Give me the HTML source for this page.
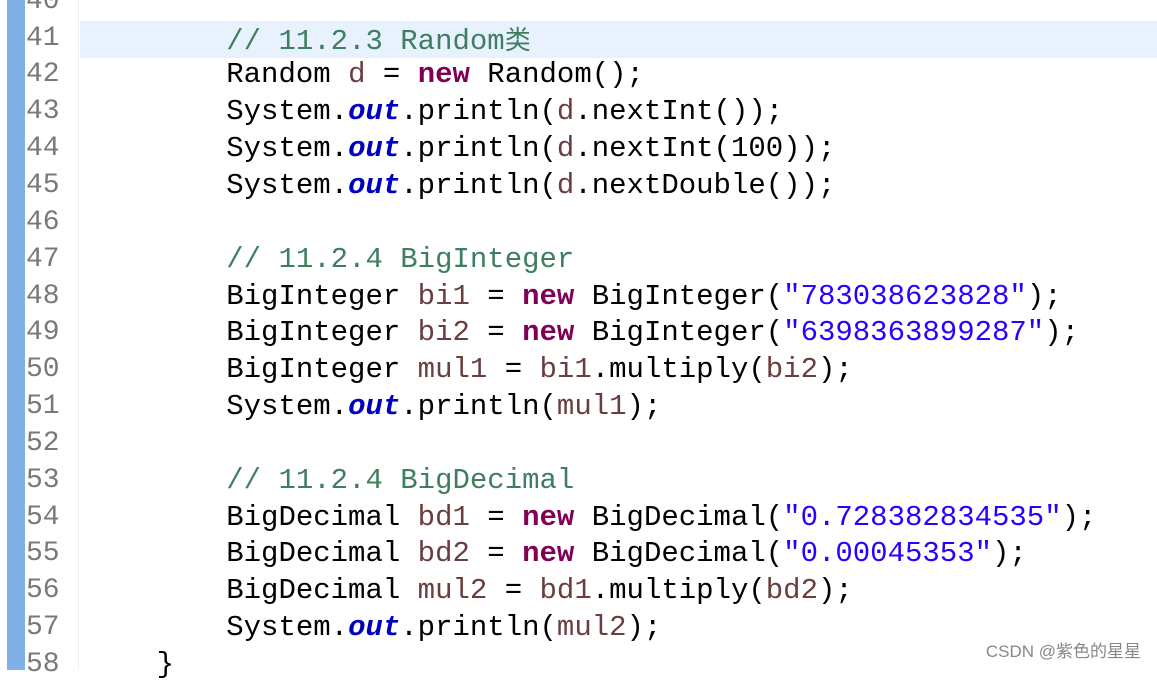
<!DOCTYPE html>
<html><head><meta charset="utf-8"><style>
body{margin:0;width:1157px;height:670px;overflow:hidden;background:#fff;position:relative;font-family:"Liberation Mono",monospace;}
.bar{position:absolute;left:7px;top:0;width:18px;height:670px;background:#7fb0e6;}
.hl{position:absolute;left:80px;top:21px;width:1077px;height:37px;background:#e8f2fe;}
.sep{position:absolute;left:78px;top:0;width:1px;height:670px;background:#f0f0f0;}
.nums{position:absolute;left:26px;top:-16.25px;font-size:28px;line-height:36.85px;color:#787878;}
.code{position:absolute;left:0;top:-16.25px;font-size:29px;line-height:36.85px;color:#000;}
.code div{height:36.85px;white-space:pre}
.c{color:#3f7f5f}.k{color:#7f0055;font-weight:bold}.o{color:#0000c0;font-style:italic;font-weight:bold}.s{color:#2a00ff}.v{color:#6a3e3e}
.wm{position:absolute;right:16px;bottom:8px;font-family:"Liberation Sans","Noto Sans CJK SC",sans-serif;font-size:17px;color:#888;}
</style></head><body>
<div class="bar"></div><div class="hl"></div><div class="sep"></div>
<div class="nums"><div>40</div><div>41</div><div>42</div><div>43</div><div>44</div><div>45</div><div>46</div><div>47</div><div>48</div><div>49</div><div>50</div><div>51</div><div>52</div><div>53</div><div>54</div><div>55</div><div>56</div><div>57</div><div>58</div></div>
<div class="code"><div></div><div>             <span class="c">// 11.2.3 Random<span style="font-family:'Noto Sans CJK SC',sans-serif;font-size:26px">类</span></span></div><div>             Random <span class="v">d</span> = <span class="k">new</span> Random();</div><div>             System.<span class="o">out</span>.println(<span class="v">d</span>.nextInt());</div><div>             System.<span class="o">out</span>.println(<span class="v">d</span>.nextInt(100));</div><div>             System.<span class="o">out</span>.println(<span class="v">d</span>.nextDouble());</div><div></div><div>             <span class="c">// 11.2.4 BigInteger</span></div><div>             BigInteger <span class="v">bi1</span> = <span class="k">new</span> BigInteger(<span class="s">"783038623828"</span>);</div><div>             BigInteger <span class="v">bi2</span> = <span class="k">new</span> BigInteger(<span class="s">"6398363899287"</span>);</div><div>             BigInteger <span class="v">mul1</span> = <span class="v">bi1</span>.multiply(<span class="v">bi2</span>);</div><div>             System.<span class="o">out</span>.println(<span class="v">mul1</span>);</div><div></div><div>             <span class="c">// 11.2.4 BigDecimal</span></div><div>             BigDecimal <span class="v">bd1</span> = <span class="k">new</span> BigDecimal(<span class="s">"0.728382834535"</span>);</div><div>             BigDecimal <span class="v">bd2</span> = <span class="k">new</span> BigDecimal(<span class="s">"0.00045353"</span>);</div><div>             BigDecimal <span class="v">mul2</span> = <span class="v">bd1</span>.multiply(<span class="v">bd2</span>);</div><div>             System.<span class="o">out</span>.println(<span class="v">mul2</span>);</div><div>         }</div></div>
<div class="wm">CSDN @紫色的星星</div>
</body></html>
